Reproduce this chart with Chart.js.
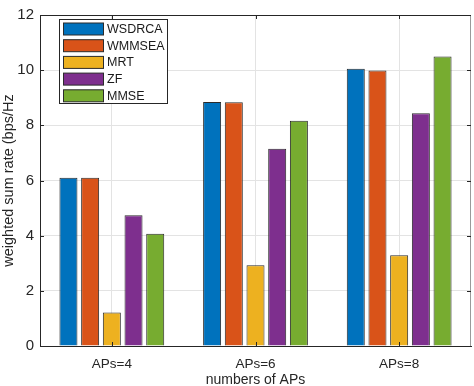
<!DOCTYPE html>
<html>
<head>
<meta charset="utf-8">
<script src="https://cdn.jsdelivr.net/npm/chart.js@4"></script>
<style>
  html, body { margin: 0; padding: 0; background: #fff; }
  #wrap { width: 474px; height: 386px; }
</style>
</head>
<body>
<div id="wrap"><canvas id="chart" width="474" height="386"></canvas></div>
<script>
// --- data ---
const categories = ['APs=4', 'APs=6', 'APs=8'];
const seriesNames = ['WSDRCA', 'WMMSEA', 'MRT', 'ZF', 'MMSE'];
const wsdrca = [6.10, 8.85, 10.05];
const wmmsea = [6.10, 8.84, 9.99];
const mrt = [1.21, 2.93, 3.29];
const zf = [4.74, 7.15, 8.44];
const mmse = [4.07, 8.17, 10.50];
const yMin = 0, yMax = 12, yStep = 2;

const colors = ['#0072BD', '#D95319', '#EDB120', '#7E2F8E', '#77AC30'];
const FONT = "'Liberation Sans', Arial, Helvetica, sans-serif";

const datasets = [wsdrca, wmmsea, mrt, zf, mmse].map((vals, i) => ({
    label: seriesNames[i],
    data: vals,
    backgroundColor: colors[i],
    borderColor: '#2b2b2b',
    borderWidth: 1,
    categoryPercentage: 0.755,
    barPercentage: 0.83
}));

// legend box inside the axes, MATLAB style
const boxLegend = {
    id: 'boxLegend',
    afterDatasetsDraw(chart) {
        const ctx = chart.ctx;
        const x0 = 59.5, y0 = 19.5, w = 108, h = 84;
        ctx.save();
        ctx.fillStyle = '#fff';
        ctx.fillRect(x0, y0, w, h);
        ctx.strokeStyle = '#262626';
        ctx.lineWidth = 1;
        ctx.strokeRect(x0, y0, w, h);
        ctx.font = '12.5px ' + FONT;
        ctx.textBaseline = 'middle';
        chart.data.datasets.forEach((ds, i) => {
            const cy = 29 + i * 16.7;
            ctx.fillStyle = ds.backgroundColor;
            ctx.fillRect(63.5, cy - 6, 40, 12);
            ctx.strokeStyle = '#2b2b2b';
            ctx.strokeRect(63.5, cy - 6, 40, 12);
            ctx.fillStyle = '#1a1a1a';
            ctx.fillText(ds.label, 107, cy + 0.5);
        });
        ctx.restore();
    }
};

// box outline + inward ticks
const axesBox = {
    id: 'axesBox',
    afterDraw(chart) {
        const { ctx, chartArea: a, scales } = chart;
        ctx.save();
        ctx.lineWidth = 1;
        ctx.strokeStyle = '#262626';
        ctx.beginPath();
        ctx.moveTo(a.left, a.top + 0.5);
        ctx.lineTo(a.right, a.top + 0.5);
        ctx.stroke();
        ctx.strokeStyle = '#9a9a9a';
        ctx.beginPath();
        ctx.moveTo(a.right - 0.5, a.top);
        ctx.lineTo(a.right - 0.5, a.bottom);
        ctx.stroke();
        ctx.strokeStyle = '#262626';
        ctx.beginPath();
        scales.y.ticks.forEach((t, i) => {
            const y = Math.round(scales.y.getPixelForTick(i)) + 0.5;
            ctx.moveTo(a.left, y); ctx.lineTo(a.left + 4, y);
            ctx.moveTo(a.right, y); ctx.lineTo(a.right - 4, y);
        });
        scales.x.ticks.forEach((t, i) => {
            const x = Math.round(scales.x.getPixelForTick(i)) + 0.5;
            ctx.moveTo(x, a.bottom); ctx.lineTo(x, a.bottom - 4);
            ctx.moveTo(x, a.top); ctx.lineTo(x, a.top + 4);
        });
        ctx.stroke();
        ctx.restore();
    }
};

new Chart(document.getElementById('chart'), {
    type: 'bar',
    data: { labels: categories, datasets: datasets },
    options: {
        responsive: false,
        animation: false,
        layout: { padding: { top: 6, right: 3, left: 0, bottom: 0 } },
        plugins: {
            legend: { display: false },
            tooltip: { enabled: false }
        },
        scales: {
            x: {
                grid: { offset: false, color: '#e3e3e3', drawTicks: false },
                border: { color: '#262626' },
                ticks: { color: '#262626', padding: 10, font: { family: FONT, size: 13.5 } },
                title: {
                    display: true, text: 'numbers of APs', color: '#262626',
                    font: { family: FONT, size: 14 }, padding: { top: 0, bottom: -3 }
                },
                afterFit(s) { s.height = 40; }
            },
            y: {
                min: yMin, max: yMax,
                grid: { color: '#e3e3e3', drawTicks: false },
                border: { color: '#262626' },
                ticks: { stepSize: yStep, color: '#262626', padding: 6, font: { family: FONT, size: 15 } },
                title: {
                    display: true, text: 'weighted sum rate (bps/Hz', color: '#262626',
                    font: { family: FONT, size: 14.5 }, padding: { top: 0, bottom: 0 }
                },
                afterFit(s) { s.width = 40; }
            }
        }
    },
    plugins: [boxLegend, axesBox]
});
</script>
</body>
</html>
